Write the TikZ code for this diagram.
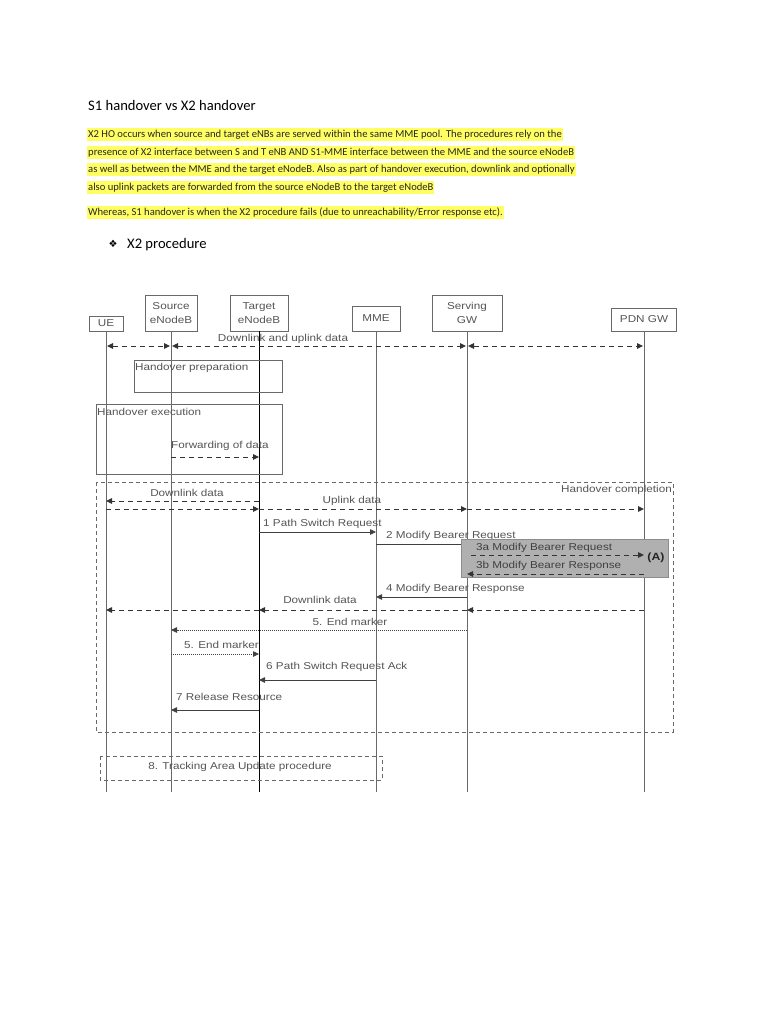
\documentclass[tikz,border=0pt]{standalone}
\usepackage{fontspec}
\setmainfont{Carlito}
\newfontfamily\arialf[FakeStretch=1.17]{Liberation Sans}
\newfontfamily\dejavu{DejaVu Sans}
\usetikzlibrary{arrows.meta,calc}
\definecolor{hl}{RGB}{255,255,100}
\definecolor{dtext}{RGB}{85,85,85}
\definecolor{lline}{RGB}{105,105,105}
\tikzset{
  para/.style={anchor=west,fill=hl,inner xsep=1pt,inner ysep=0pt,text height=9.5pt,text depth=3.5pt,font=\fontsize{10.6}{13}\selectfont,text=black!85},
  hbox/.style={draw=lline,fill=white,text=dtext,font=\arialf\fontsize{10}{14}\selectfont,align=center,inner sep=1pt},
  life/.style={draw=lline,line width=0.7pt},
  lbl/.style={text=dtext,font=\arialf\fontsize{10}{12}\selectfont,inner sep=0pt},
  tip/.style={-{Triangle[length=6pt,width=5.5pt]}},
  dtip/.style={{Triangle[length=6pt,width=5.5pt]}-{Triangle[length=6pt,width=5.5pt]}},
  dsh/.style={dash pattern=on 5pt off 4pt,line width=0.9pt,black!80},
  dot/.style={dash pattern=on 1pt off 1pt,line width=0.8pt,black!75},
  sol/.style={line width=0.8pt,black!75},
  grpbox/.style={draw=lline,line width=0.7pt},
  dgrp/.style={draw=lline,line width=0.8pt,dash pattern=on 4pt off 3pt},
}
\begin{document}
\begin{tikzpicture}[x=1pt,y=-1pt]
\useasboundingbox[fill=white] (0,0) rectangle (768,1024);
% text
\node[anchor=west,inner sep=0pt,font=\fontsize{14.6}{17}\selectfont] (title) at (88,105) {S1 handover vs X2 handover};
\node[para] (p1) at (87,135) {X2 HO occurs when source and target eNBs are served within the same MME pool. The procedures rely on the};
\node[para] (p2) at (87,152.5) {presence of X2 interface between S and T eNB AND S1-MME interface between the MME and the source eNodeB};
\node[para] (p3) at (87,170) {as well as between the MME and the target eNodeB. Also as part of handover execution, downlink and optionally};
\node[para] (p4) at (87,187.5) {also uplink packets are forwarded from the source eNodeB to the target eNodeB};
\node[para] (p5) at (87,213) {Whereas, S1 handover is when the X2 procedure fails (due to unreachability/Error response etc).};
\node[inner sep=0pt,font=\dejavu\fontsize{10}{12}\selectfont] (bul) at (113,244) {❖};
\node[anchor=west,inner sep=0pt,font=\fontsize{14.6}{17}\selectfont] (x2p) at (127,245) {X2 procedure};
% heads
\node[hbox,minimum width=34pt,minimum height=15pt] (ue) at (106,323.5) {UE};
\node[hbox,minimum width=52pt,minimum height=36pt] (src) at (171,313) {Source\\eNodeB};
\node[hbox,minimum width=58pt,minimum height=36pt] (tgt) at (259,313) {Target\\eNodeB};
\node[hbox,minimum width=48pt,minimum height=25pt] (mme) at (376,318.5) {MME};
\node[hbox,minimum width=70pt,minimum height=36pt] (sgw) at (467,313) {Serving\\GW};
\node[hbox,minimum width=65pt,minimum height=23pt] (pdn) at (644,319.5) {PDN GW};
% lifelines
\draw[life] (ue.south) -- (ue |- 0,792);
\draw[life] (src.south) -- (src |- 0,792);
\draw[life,draw=black] (tgt.south) -- (tgt |- 0,792);
\draw[life] (mme.south) -- (mme |- 0,792);
\draw[life] (sgw.south) -- (sgw |- 0,792);
\draw[life] (pdn.south) -- (pdn |- 0,792);
% downlink and uplink data
\draw[dsh,dtip,shorten <=1pt,shorten >=1pt] (ue |- 0,346) -- (src |- 0,346);
\draw[dsh,dtip,shorten <=1pt,shorten >=1pt] (src |- 0,346) -- (sgw |- 0,346);
\draw[dsh,dtip,shorten <=1pt,shorten >=1pt] (sgw |- 0,346) -- (pdn |- 0,346);
\node[lbl] (l0) at (283,339) {Downlink and uplink data};
% handover preparation
\draw[grpbox] (134,360) rectangle (282,392);
\node[lbl,anchor=west] (hp) at (135,368) {Handover preparation};
% handover execution
\draw[grpbox] (96,404) rectangle (282,474);
\node[lbl,anchor=west] (he) at (97,412) {Handover execution};
\draw[dsh,tip] (src |- 0,457) -- (tgt |- 0,457);
\node[lbl,anchor=west] (fw) at (171,446) {Forwarding of data};
% handover completion
\draw[dgrp] (96,482) rectangle (673,732);
\node[lbl,anchor=east] (hc) at (672,490) {Handover completion};
\draw[dsh,tip] (tgt |- 0,501) -- (ue |- 0,501);
\node[lbl] (l1) at (187,493) {Downlink data};
\draw[dsh,tip] (ue |- 0,509) -- (tgt |- 0,509);
\draw[dsh,tip] (tgt |- 0,509) -- (sgw |- 0,509);
\draw[dsh,tip] (sgw |- 0,509) -- (pdn |- 0,509);
\node[lbl] (l2) at (352,501) {Uplink data};
\draw[sol,tip] (tgt |- 0,532) -- (mme |- 0,532);
\node[lbl,anchor=west] (m1) at (263,524) {1 Path Switch Request};
\draw[sol,tip] (mme |- 0,544) -- (sgw |- 0,544);
\node[lbl,anchor=west] (m2) at (386,536) {2 Modify Bearer Request};
\draw[draw=gray!90,fill=gray!62] (461,539) rectangle (668,577);
\draw[dsh,tip] (sgw |- 0,555) ++(4,0) -- (pdn |- 0,555);
\node[lbl,anchor=west,text=black!75] (m3a) at (476,548) {3a Modify Bearer Request};
\draw[dsh,tip] (pdn |- 0,574) -- (sgw |- 0,574);
\node[lbl,anchor=west,text=black!75] (m3b) at (476,566) {3b Modify Bearer Response};
\node[inner sep=0pt,font=\arialf\bfseries\fontsize{10.5}{12}\selectfont,text=black!85] (A) at (656,558) {(A)};
\draw[sol,tip] (sgw |- 0,597) -- (mme |- 0,597);
\node[lbl,anchor=west] (m4) at (386,589) {4 Modify Bearer Response};
\draw[dsh,tip] (pdn |- 0,610) -- (sgw |- 0,610);
\draw[dsh,tip] (sgw |- 0,610) -- (tgt |- 0,610);
\draw[dsh,tip] (tgt |- 0,610) -- (ue |- 0,610);
\node[lbl] (l3) at (320,600) {Downlink data};
\draw[dot,tip] (sgw |- 0,630) -- (src |- 0,630);
\node[lbl] (m5a) at (350,622) {5. End marker};
\draw[dot,tip] (src |- 0,654) -- (tgt |- 0,654);
\node[lbl,anchor=west] (m5b) at (184,645) {5. End marker};
\draw[sol,tip] (mme |- 0,680) -- (tgt |- 0,680);
\node[lbl,anchor=west] (m6) at (266,667) {6 Path Switch Request Ack};
\draw[sol,tip] (tgt |- 0,710) -- (src |- 0,710);
\node[lbl,anchor=west] (m7) at (176,697) {7 Release Resource};
% TAU
\draw[dgrp] (100,756) rectangle (382,780);
\node[lbl] (tau) at (240,767) {8. Tracking Area Update procedure};
\end{tikzpicture}
\end{document}
